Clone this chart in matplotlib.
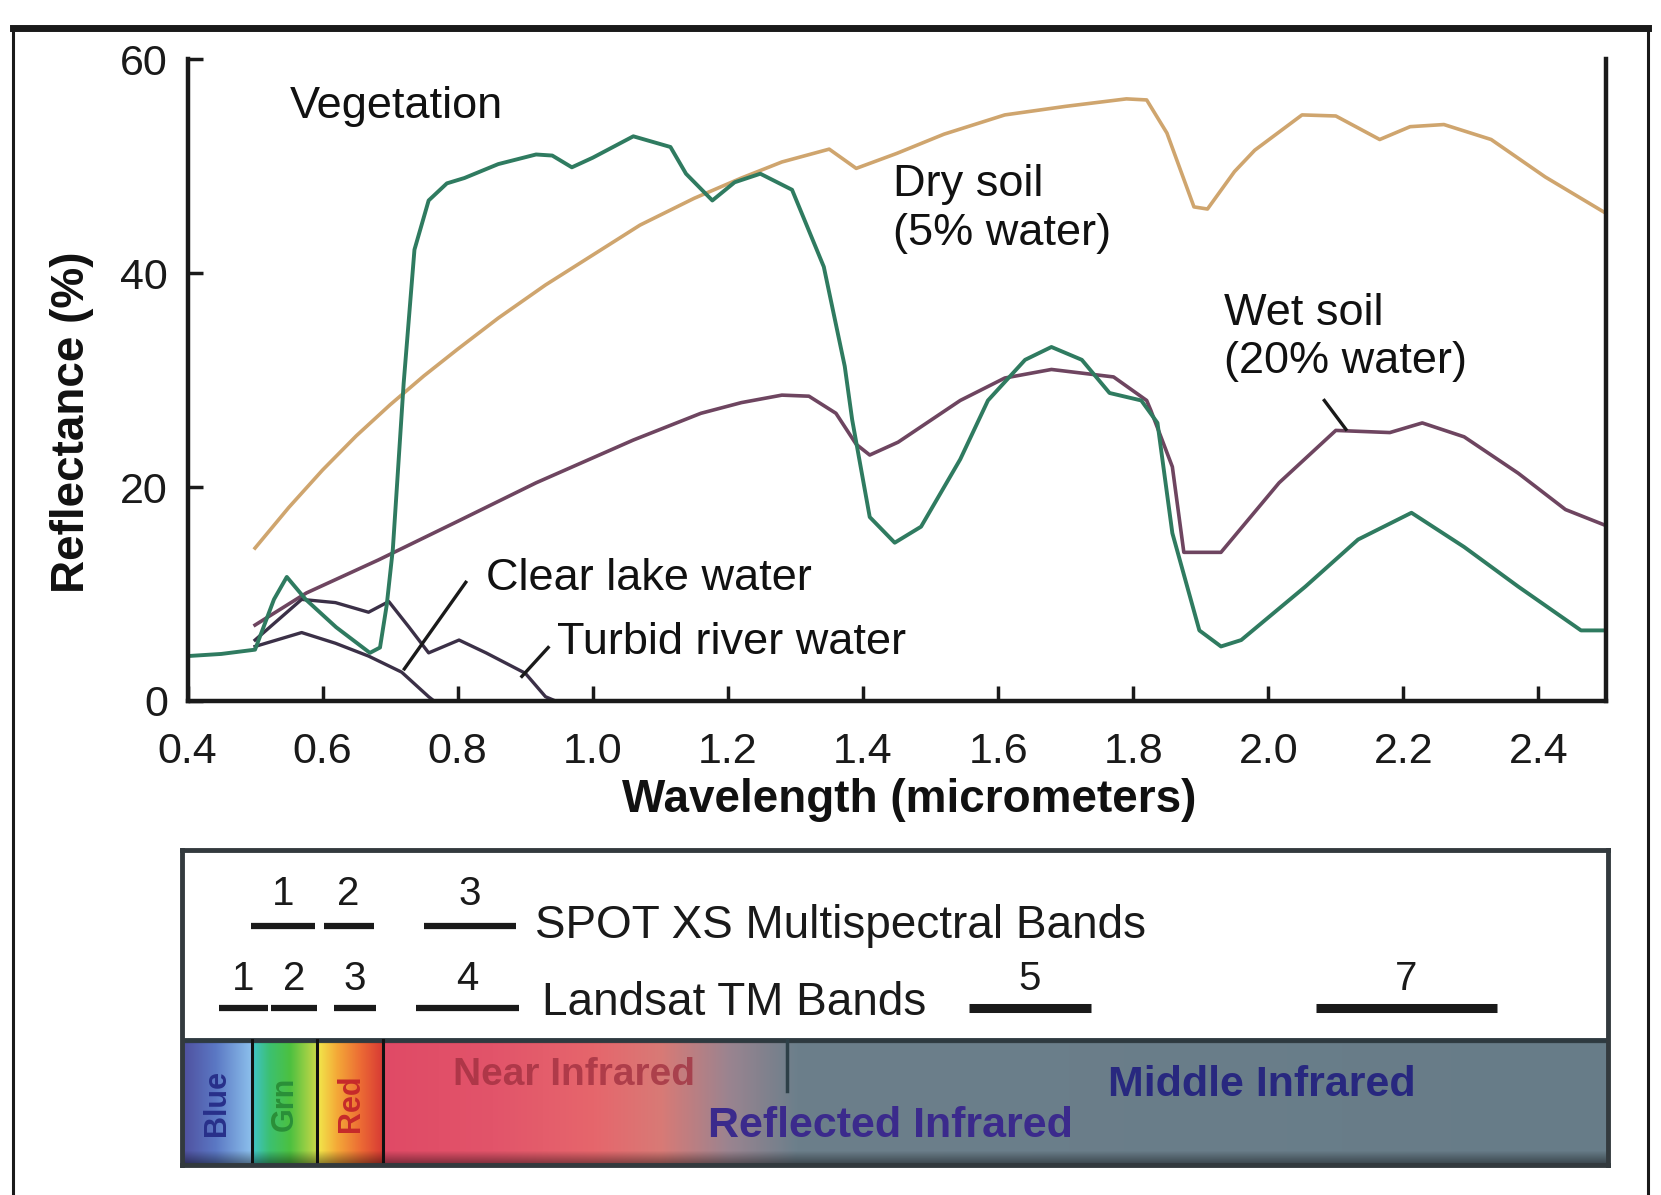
import numpy as np
import matplotlib
matplotlib.use('Agg')
import matplotlib.pyplot as plt
from matplotlib.lines import Line2D
from matplotlib.colors import to_rgb

plt.rcParams['font.family'] = ['Liberation Sans', 'DejaVu Sans']

# ---------------- data ----------------
dry_x = [0.50, 0.55, 0.60, 0.65, 0.70, 0.75, 0.80, 0.86, 0.93, 1.00, 1.07, 1.15, 1.22,
         1.28, 1.35, 1.39, 1.45, 1.52, 1.61, 1.70, 1.79, 1.82, 1.85, 1.89, 1.91, 1.95,
         1.98, 2.05, 2.10, 2.165, 2.21, 2.26, 2.33, 2.41, 2.50]
dry_y = [14.3, 18.1, 21.6, 24.8, 27.7, 30.4, 32.9, 35.8, 38.9, 41.7, 44.5, 47.0, 48.9,
         50.4, 51.6, 49.8, 51.2, 53.0, 54.8, 55.6, 56.3, 56.2, 53.1, 46.2, 46.0, 49.5,
         51.5, 54.8, 54.7, 52.5, 53.7, 53.9, 52.5, 49.0, 45.6]

veg_x = [0.40, 0.45, 0.50, 0.528, 0.547, 0.575, 0.62, 0.67, 0.685, 0.695, 0.704, 0.72,
         0.736, 0.757, 0.784, 0.81, 0.86, 0.916, 0.94, 0.969, 1.00, 1.06, 1.115,
         1.138, 1.177, 1.21, 1.248, 1.295, 1.342, 1.373, 1.384, 1.41, 1.447, 1.486,
         1.544, 1.585, 1.64, 1.679, 1.724, 1.765, 1.812, 1.836, 1.858, 1.898, 1.93,
         1.96, 2.055, 2.133, 2.212, 2.29, 2.37, 2.463, 2.50]
veg_y = [4.2, 4.4, 4.8, 9.5, 11.6, 9.5, 6.9, 4.5, 5.0, 9.0, 14.2, 29.7,
         42.2, 46.8, 48.4, 48.9, 50.2, 51.1, 51.0, 49.9, 50.8, 52.8, 51.8,
         49.3, 46.8, 48.5, 49.3, 47.8, 40.6, 31.3, 26.3, 17.2, 14.8, 16.3,
         22.6, 28.1, 31.9, 33.1, 31.9, 28.8, 28.1, 26.0, 15.7, 6.6, 5.1,
         5.7, 10.7, 15.1, 17.6, 14.4, 10.7, 6.6, 6.6]

wet_x = [0.50, 0.576, 0.683, 0.80, 0.916, 1.06, 1.16, 1.22, 1.28, 1.32, 1.36, 1.39, 1.41,
         1.452, 1.544, 1.61, 1.679, 1.771, 1.82, 1.826, 1.858, 1.875, 1.93, 2.016,
         2.10, 2.18, 2.228, 2.29, 2.37, 2.44, 2.50]
wet_y = [7.1, 10.1, 13.2, 16.8, 20.4, 24.4, 26.9, 27.9, 28.6, 28.5, 26.9, 24.0, 23.0,
         24.2, 28.1, 30.2, 31.0, 30.3, 28.1, 27.2, 21.9, 13.9, 13.9, 20.4,
         25.3, 25.1, 26.0, 24.7, 21.3, 17.9, 16.4]

turbid_x = [0.50, 0.569, 0.619, 0.668, 0.698, 0.728, 0.757, 0.802, 0.842, 0.90, 0.93, 0.945]
turbid_y = [5.7, 9.5, 9.2, 8.3, 9.3, 6.9, 4.5, 5.7, 4.5, 2.6, 0.4, 0.0]

clear_x = [0.50, 0.569, 0.619, 0.668, 0.717, 0.757, 0.765]
clear_y = [5.1, 6.4, 5.4, 4.2, 2.7, 0.4, 0.0]

x_ticks = [0.4, 0.6, 0.8, 1.0, 1.2, 1.4, 1.6, 1.8, 2.0, 2.2, 2.4]
x_tick_labels = ['0.4', '0.6', '0.8', '1.0', '1.2', '1.4', '1.6', '1.8', '2.0', '2.2', '2.4']
y_ticks = [0, 20, 40, 60]
y_tick_labels = ['0', '20', '40', '60']

# curve labels
curve_labels = ['Vegetation', 'Dry soil\n(5% water)', 'Wet soil\n(20% water)',
                'Clear lake water', 'Turbid river water']
label_x = [0.552, 1.445, 1.935, 0.842, 0.947]
label_y = [55.6, 46.0, 34.0, 11.5, 5.5]

# leader lines
clear_leader_x = [0.812, 0.721]
clear_leader_y = [11.1, 3.0]
turbid_leader_x = [0.934, 0.895]
turbid_leader_y = [5.0, 2.3]
wet_leader_x = [2.083, 2.115]
wet_leader_y = [28.1, 25.4]

# satellite bands
spot_names = ['1', '2', '3']
spot_start = [0.493, 0.600, 0.748]
spot_end = [0.587, 0.674, 0.884]
tm_names = ['1', '2', '3', '4', '5', '7']
tm_start = [0.445, 0.522, 0.616, 0.737, 1.555, 2.068]
tm_end = [0.518, 0.590, 0.677, 0.889, 1.735, 2.336]

# spectrum colours along wavelength
spec_wl = [0.39, 0.44, 0.493, 0.495, 0.52, 0.55, 0.589, 0.592, 0.62, 0.655, 0.687,
           0.690, 0.85, 1.00, 1.10, 1.20, 1.30, 2.51]
spec_col = ['#4f4f9e', '#5b78c4', '#8cc0ec', '#40c4c8', '#3cc070', '#4cc040', '#c8d848',
            '#f2e64a', '#f4a838', '#ec6a34', '#d83a34', '#e04a66', '#e2546a', '#e6666c',
            '#d87a76', '#9a8490', '#6c7f8b', '#677c88']
spec_dividers = [0.494, 0.591, 0.688]

# ---------------- figure ----------------
W, H = 1661, 1195
fig = plt.figure(figsize=(W / 100, H / 100), dpi=100)
fig.patch.set_facecolor('white')

# outer frame (no bottom edge)
fx0, fx1, fy1 = 13 / W, 1648 / W, 1 - 28 / H
fig.add_artist(Line2D([fx0, fx1], [fy1, fy1], color='#1a1a1a', lw=5, transform=fig.transFigure))
fig.add_artist(Line2D([fx0, fx0], [0, fy1], color='#1a1a1a', lw=2.2, transform=fig.transFigure))
fig.add_artist(Line2D([fx1, fx1], [0, fy1], color='#1a1a1a', lw=2.2, transform=fig.transFigure))

ax = fig.add_axes([187.5 / W, 494 / H, 1418.5 / W, 641.7 / H])
ax.set_xlim(0.4, 2.5)
ax.set_ylim(0, 60)

ax.plot(dry_x, dry_y, color='#cfa56e', lw=2.6, solid_joinstyle='round')
ax.plot(wet_x, wet_y, color='#6e4560', lw=2.6, solid_joinstyle='round')
ax.plot(turbid_x, turbid_y, color='#3b3047', lw=2.4, solid_joinstyle='round')
ax.plot(clear_x, clear_y, color='#3b3047', lw=2.4, solid_joinstyle='round')
ax.plot(veg_x, veg_y, color='#2f7b60', lw=2.8, solid_joinstyle='round')

for lx, ly in [(clear_leader_x, clear_leader_y), (turbid_leader_x, turbid_leader_y),
               (wet_leader_x, wet_leader_y)]:
    ax.plot(lx, ly, color='#1a1a1a', lw=2.4)

for t, x, y in zip(curve_labels, label_x, label_y):
    ax.text(x, y, t, fontsize=32.5, ha='left', va='center', color='#111111', linespacing=1.23)

ax.spines['top'].set_visible(False)
for s in ['left', 'right', 'bottom']:
    ax.spines[s].set_linewidth(3.2)
    ax.spines[s].set_color('#1a1a1a')
ax.set_xticks(x_ticks)
ax.set_xticklabels(x_tick_labels)
ax.set_yticks(y_ticks)
ax.set_yticklabels(y_tick_labels)
ax.tick_params(direction='in', length=11, width=2.5, labelsize=31, colors='#1a1a1a')
ax.tick_params(axis='x', pad=22)
ax.tick_params(axis='y', pad=14)
ax.patch.set_alpha(0)

fig.text(72 / W, 1 - 422.6 / H, 'Reflectance (%)', rotation=90, ha='center', va='center',
         fontsize=33, fontweight='bold', color='#111111')
fig.text(909 / W, 1 - 800 / H, 'Wavelength (micrometers)', ha='center', va='center',
         fontsize=33, fontweight='bold', color='#111111')

# ---------------- band panel ----------------
bx = fig.add_axes([182 / W, 30 / H, 1426 / W, 315.4 / H])
bx.set_xlim(0.3906, 2.5003)
bx.set_ylim(0, 1)
bx.set_xticks([])
bx.set_yticks([])
for s in bx.spines.values():
    s.set_linewidth(3.5)
    s.set_color('#333a3e')
    s.set_zorder(10)

spec_top = 0.396
grid = np.linspace(0.3906, 2.5003, 1500)
rgb = np.array([to_rgb(c) for c in spec_col])
row = np.stack([np.interp(grid, spec_wl, rgb[:, k]) for k in range(3)], axis=-1)
nrows = 100
shade = np.ones(nrows)
shade[-12:] = np.linspace(1.0, 0.55, 12)
shade[:4] = np.linspace(0.7, 1.0, 4)
img = row[np.newaxis, :, :] * shade[:, np.newaxis, np.newaxis]
bx.imshow(img, extent=[0.3906, 2.5003, 0, spec_top], aspect='auto', origin='upper',
          interpolation='bilinear', zorder=1)
bx.axhline(spec_top, color='#2e3a40', lw=3.5, zorder=5)
for d in spec_dividers:
    bx.plot([d, d], [0, spec_top], color='#111111', lw=2.2, zorder=5)
bx.plot([1.285, 1.285], [0.235, spec_top], color='#2e4048', lw=2.5, zorder=5)

bx.text(0.443, 0.195, 'Blue', rotation=90, ha='center', va='center', fontsize=22,
        fontweight='bold', color='#28308a', zorder=6)
bx.text(0.543, 0.195, 'Grn', rotation=90, ha='center', va='center', fontsize=22,
        fontweight='bold', color='#2a8f38', zorder=6)
bx.text(0.640, 0.195, 'Red', rotation=90, ha='center', va='center', fontsize=22,
        fontweight='bold', color='#c62a2a', zorder=6)
bx.text(0.971, 0.285, 'Near Infrared', ha='center', va='center', fontsize=28,
        fontweight='bold', color='#9e2e3e', alpha=0.75, zorder=6)
bx.text(1.438, 0.124, 'Reflected Infrared', ha='center', va='center', fontsize=31,
        fontweight='bold', color='#3b2a8c', zorder=6)
bx.text(1.988, 0.255, 'Middle Infrared', ha='center', va='center', fontsize=31,
        fontweight='bold', color='#28287f', zorder=6)

spot_y, tm_y = 0.758, 0.497
for n, a, b in zip(spot_names, spot_start, spot_end):
    bx.plot([a, b], [spot_y, spot_y], color='#1a1a1a', lw=4.5, solid_capstyle='butt')
    bx.text((a + b) / 2, 0.86, n, ha='center', va='center', fontsize=29, color='#1a1a1a')
for n, a, b in zip(tm_names, tm_start, tm_end):
    w = 6.5 if n in ('5', '7') else 4.5
    bx.plot([a, b], [tm_y, tm_y], color='#1a1a1a', lw=w, solid_capstyle='butt')
    bx.text((a + b) / 2, 0.59, n, ha='center', va='center', fontsize=29, color='#1a1a1a')

bx.text(0.9125, spot_y, 'SPOT XS Multispectral Bands', ha='left', va='center', fontsize=33,
        color='#1a1a1a')
bx.text(0.9235, 0.513, 'Landsat TM Bands', ha='left', va='center', fontsize=33,
        color='#1a1a1a')

fig.savefig('out.png', dpi=100, facecolor='white')
